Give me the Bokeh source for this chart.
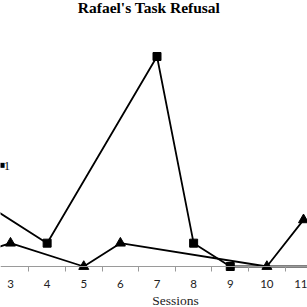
from bokeh.plotting import figure
from bokeh.models import Range1d, FixedTicker, Label, LinearAxis
from bokeh.embed import file_html
from bokeh.resources import INLINE

title_text = "Rafael's Task Refusal"
x_label = "Sessions"
tick_sessions = [3, 4, 5, 6, 7, 8, 9, 10, 11]

sq_sessions = [2, 4, 7, 8, 9, 12]
sq_values = [3, 1, 9, 1, 0, 0]

tri_sessions = [1, 3, 5, 6, 10, 11]
tri_values = [0, 1, 0, 1, 0, 2]

p = figure(width=307, height=307, output_backend="svg", toolbar_location=None,
           x_range=Range1d(2.727, 11.109), y_range=Range1d(-1.757, 11.4),
           min_border=0, x_axis_location=None, y_axis_location=None)
p.outline_line_color = None
p.grid.visible = False
p.background_fill_color = "white"

ax = LinearAxis(fixed_location=0)
ax.ticker = FixedTicker(ticks=tick_sessions,
                        minor_ticks=[t + 0.5 for t in range(2, 12)])
ax.axis_line_color = "#9a9a9a"
ax.axis_line_width = 1
ax.major_tick_out = 0
ax.major_tick_in = 0
ax.minor_tick_out = 5
ax.minor_tick_in = 0
ax.minor_tick_line_color = "#9a9a9a"
ax.major_label_standoff = 8
ax.major_label_text_font = "Lato"
ax.major_label_text_font_size = "11.5px"
ax.major_label_text_color = "#222222"
p.add_layout(ax, "below")

p.line(sq_sessions, sq_values, line_color="black", line_width=1.8)
p.scatter(sq_sessions, sq_values, marker="square", size=8, fill_color="black", line_color="black")

p.line(tri_sessions, tri_values, line_color="black", line_width=1.8)
p.scatter(tri_sessions, tri_values, marker="triangle", size=10, fill_color="black", line_color="black")

p.add_layout(Label(x=148.5, y=300.5, x_units="screen", y_units="screen", text=title_text,
                   text_align="center", text_baseline="alphabetic",
                   text_font="Liberation Serif", text_font_style="bold",
                   text_font_size="15.5px", text_color="black"))
p.add_layout(Label(x=175, y=7, x_units="screen", y_units="screen", text=x_label,
                   text_align="center", text_baseline="alphabetic",
                   text_font="Liberation Serif", text_font_size="13.5px", text_color="#222222"))
p.add_layout(Label(x=-1.5, y=143, x_units="screen", y_units="screen", text="■",
                   text_align="left", text_baseline="alphabetic",
                   text_font="DejaVu Sans", text_font_size="6.5px", text_color="black"))
p.add_layout(Label(x=3.5, y=142, x_units="screen", y_units="screen", text="1",
                   text_align="left", text_baseline="alphabetic",
                   text_font="Liberation Serif", text_font_size="12px", text_color="black"))

open("out.html", "w").write(file_html(p, INLINE))
